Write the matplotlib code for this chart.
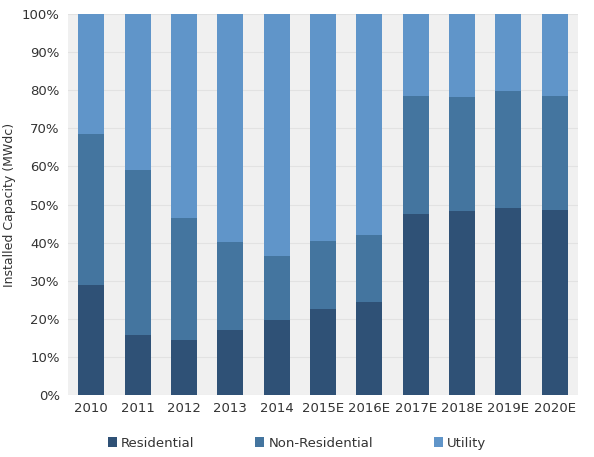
import matplotlib
matplotlib.use('Agg')
import matplotlib.pyplot as plt
import numpy as np

plt.rcParams['font.family'] = ['Liberation Sans Narrow', 'DejaVu Sans']

# Datos (porcentaje de capacidad instalada)
years = ['2010', '2011', '2012', '2013', '2014', '2015E', '2016E',
         '2017E', '2018E', '2019E', '2020E']
residential = [28.9, 15.8, 14.4, 17.1, 19.7, 22.6, 24.3, 47.6, 48.2, 49.2, 48.7]
non_residential = [39.6, 43.3, 32.0, 23.0, 16.7, 17.9, 17.6, 30.9, 30.1, 30.7, 29.8]
utility = [100 - r - n for r, n in zip(residential, non_residential)]

colors = ['#2f5176', '#44759f', '#6095c9']

fig = plt.figure(figsize=(5.94, 4.57), dpi=100)
ax = fig.add_axes([0.1145, 0.1357, 0.8585, 0.8333])
ax.set_facecolor('#f0f0f0')

x = np.arange(len(years))
w = 0.56
ax.bar(x, residential, w, color=colors[0], label='Residential', zorder=3)
ax.bar(x, non_residential, w, bottom=residential, color=colors[1],
       label='Non-Residential', zorder=3)
bottom2 = [r + n for r, n in zip(residential, non_residential)]
ax.bar(x, utility, w, bottom=bottom2, color=colors[2], label='Utility', zorder=3)

ax.set_xlim(-0.5, len(years) - 0.5)
ax.set_ylim(0, 100)
ax.set_yticks(range(0, 101, 10))
ax.set_yticklabels([f'{v}%' for v in range(0, 101, 10)])
ax.set_xticks(x)
ax.set_xticklabels(years)
ax.yaxis.grid(True, color='#e2e2e2', linewidth=0.8, zorder=0)
ax.tick_params(length=0, labelsize=9.5, colors='#333333')
ax.tick_params(axis='y', pad=6)
ax.tick_params(axis='x', pad=5)
for s in ax.spines.values():
    s.set_visible(False)
ax.set_ylabel('Installed Capacity (MWdc)', fontsize=9, color='#333333', labelpad=4)

fig.legend(loc='lower center', bbox_to_anchor=(0.5, -0.01), ncol=3, frameon=False,
           fontsize=9.5, handlelength=0.7, handleheight=0.7, handletextpad=0.3,
           columnspacing=4.6, labelcolor='#333333')

fig.savefig('out.png', dpi=100)
